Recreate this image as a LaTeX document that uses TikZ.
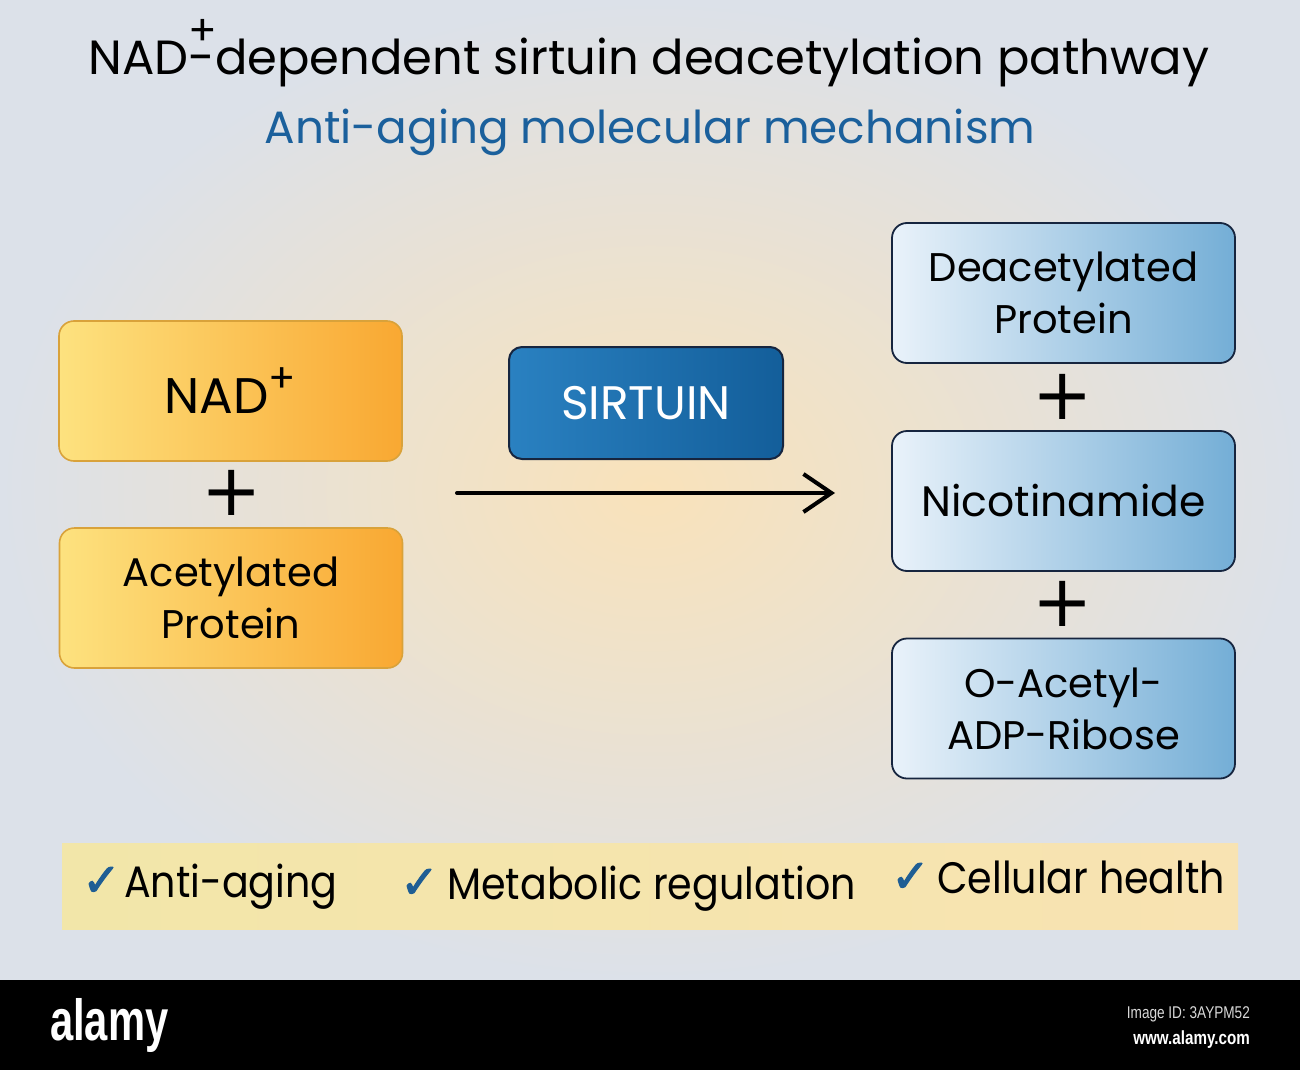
\documentclass[tikz,border=0pt]{standalone}
\usepackage{fontspec}
\setmainfont{Poppins}
\newfontfamily\dejavu{DejaVu Sans}
\newfontfamily\dejavuchk[FakeBold=2.2]{DejaVu Sans}
\newfontfamily\libsans{Liberation Sans}
\usetikzlibrary{arrows.meta}
\definecolor{bgin}{HTML}{F9E2BA}
\definecolor{bgout}{HTML}{DCE1E9}
\definecolor{orA}{HTML}{FDE27F}
\definecolor{orB}{HTML}{F9A832}
\definecolor{orD}{HTML}{D9A23A}
\definecolor{blA}{HTML}{E9F2FA}
\definecolor{blB}{HTML}{74AED6}
\definecolor{blD}{HTML}{16253F}
\definecolor{sirA}{HTML}{2A81C1}
\definecolor{sirB}{HTML}{135E9A}
\definecolor{subblue}{HTML}{1B609C}
\definecolor{chk}{HTML}{1F5E94}
\definecolor{stripA}{HTML}{F2E6A9}
\definecolor{stripB}{HTML}{F8E3B2}
\tikzset{
  orbox/.style={draw=orD, line width=1.6pt, rounded corners=15pt, left color=orA, right color=orB,
    minimum width=343pt, minimum height=140pt, align=center, text=black,
    font=\fontsize{40}{52}\selectfont},
  blbox/.style={draw=blD, line width=1.8pt, rounded corners=15pt, left color=blA, right color=blB,
    minimum width=343pt, minimum height=140pt, align=center, text=black,
    font=\fontsize{40}{52}\selectfont},
  sirbox/.style={draw=blD, line width=2pt, rounded corners=13pt, left color=sirA, right color=sirB,
    minimum width=274pt, minimum height=112pt, align=center, text=white,
    font=\fontsize{47}{52}\selectfont},
  plussign/.style={font=\fontsize{72}{72}\selectfont\dejavu, inner sep=0pt, text=black},
  benefit/.style={anchor=base west, inner sep=0pt, xscale=0.9, font=\fontsize{44}{48}\selectfont},
  tick/.style={anchor=base west, inner sep=0pt, text=chk, xscale=1.0, font=\fontsize{46}{52}\selectfont\dejavuchk}
}
\begin{document}
\begin{tikzpicture}[x=1pt,y=-1pt]
\useasboundingbox (0,0) rectangle (1300,1070);
\shade[inner color=bgin, outer color=bgout] (0,0) rectangle (1300,980);
\fill[black] (0,980) rectangle (1300,1070);

% titles
\node[anchor=base, inner sep=0pt, font=\fontsize{48}{56}\selectfont] (title) at (649,75)
  {NAD\rlap{\raisebox{0.62em}{\fontsize{42}{42}\selectfont +}}-dependent sirtuin deacetylation pathway};
\node[anchor=base, inner sep=0pt, text=subblue, font=\fontsize{45.3}{52}\selectfont] (subtitle) at (650,143)
  {Anti-aging molecular mechanism};

% left reactants
\node[orbox, font=\fontsize{50}{56}\selectfont] (nad) at (230.5,391) {NAD\raisebox{0.42em}{\fontsize{40}{40}\selectfont +}};
\node[plussign] (p1) at (232,493) {+};
\node[orbox] (acet) at (231,598) {Acetylated\\Protein};

% enzyme and arrow
\node[sirbox] (sirt) at (646,403) {SIRTUIN};
\coordinate (arrS) at (457,493);
\coordinate (arrE) at (835,493);
\draw[line width=4pt, line cap=round, -{Straight Barb[length=28pt,width=38pt,line width=4pt]}] (arrS) -- (arrE);

% products
\node[blbox] (deac) at (1063.5,293) {Deacetylated\\Protein};
\node[plussign] (p2) at (1063,397) {+};
\node[blbox, font=\fontsize{42.5}{52}\selectfont] (nico) at (1063.5,501) {Nicotinamide};
\node[plussign] (p3) at (1063,604) {+};
\node[blbox] (oac) at (1063.5,708.5) {O-Acetyl-\\ADP-Ribose};

% benefits strip
\shade[left color=stripA, right color=stripB] (62,843) rectangle (1238,929);
\node[tick] (t1) at (82,896) {✓};
\node[benefit] (b1) at (124,897) {Anti-aging};
\node[tick] (t2) at (400,898) {✓};
\node[benefit] (b2) at (447,899) {Metabolic regulation};
\node[tick] (t3) at (891,892) {✓};
\node[benefit] (b3) at (937,893) {Cellular health};

% footer bar
\node[anchor=base west, inner sep=0pt, text=white, font=\fontsize{58}{60}\selectfont\libsans\bfseries, xscale=0.72] (alamy) at (50,1040) {alamy};
\node[anchor=base east, inner sep=0pt, text=white!85!black, font=\fontsize{17}{20}\selectfont\libsans, xscale=0.8] (imgid) at (1250,1018) {Image ID: 3AYPM52};
\node[anchor=base east, inner sep=0pt, text=white, font=\fontsize{19}{20}\selectfont\libsans\bfseries, xscale=0.8] (www) at (1250,1044) {www.alamy.com};
\end{tikzpicture}
\end{document}
